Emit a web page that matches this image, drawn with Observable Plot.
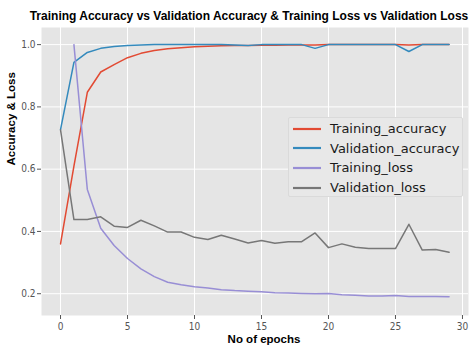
<!DOCTYPE html>
<html>
<head>
<meta charset="utf-8">
<script src="https://cdn.jsdelivr.net/npm/d3@7"></script>
<script src="https://cdn.jsdelivr.net/npm/@observablehq/plot@0.6"></script>
<style>
  html, body { margin: 0; padding: 0; background: #fff; }
  #wrap { position: relative; width: 474px; height: 362px; }
  #legend {
    position: absolute; left: 288px; top: 117px; width: 175px; height: 80px;
    background: #e8e8e8; border: 1px solid #dadada; border-radius: 2px; box-sizing: border-box;
    font-family: "DejaVu Sans", sans-serif; font-size: 13px; color: #1a1a1a;
    padding-top: 1px;
  }
  #legend .row { display: flex; align-items: center; height: 19.6px; }
  #legend svg { margin-left: 4px; margin-right: 9px; }
</style>
</head>
<body>
<div id="wrap"></div>
<script>
const epochs = d3.range(0, 30);
const trainingAccuracy = [0.36, 0.61, 0.847, 0.912, 0.936, 0.958, 0.972, 0.981, 0.987, 0.99,
  0.993, 0.995, 0.996, 0.997, 0.997, 0.998, 0.998, 0.999, 0.999, 0.999,
  1.0, 1.0, 1.0, 1.0, 1.0, 1.0, 0.999, 1.0, 1.0, 1.0];
const validationAccuracy = [0.727, 0.943, 0.975, 0.988, 0.994, 0.997, 0.999, 1.0, 1.0, 1.0,
  1.0, 1.0, 1.0, 0.999, 0.997, 1.0, 1.0, 1.0, 1.0, 0.988,
  1.0, 1.0, 1.0, 1.0, 1.0, 1.0, 0.978, 1.0, 1.0, 1.0];
const trainingLoss = [null, 1.0, 0.535, 0.41, 0.355, 0.313, 0.28, 0.255, 0.237, 0.229,
  0.222, 0.218, 0.213, 0.21, 0.208, 0.206, 0.203, 0.202, 0.201, 0.2,
  0.201, 0.197, 0.195, 0.193, 0.193, 0.194, 0.191, 0.191, 0.191, 0.19];
const validationLoss = [0.726, 0.438, 0.438, 0.447, 0.417, 0.413, 0.436, 0.418, 0.398, 0.398,
  0.381, 0.374, 0.388, 0.376, 0.363, 0.371, 0.362, 0.367, 0.367, 0.395,
  0.348, 0.36, 0.349, 0.345, 0.345, 0.345, 0.423, 0.34, 0.342, 0.333];
const seriesNames = ["Training_accuracy", "Validation_accuracy", "Training_loss", "Validation_loss"];
const seriesColors = ["#E24A33", "#348ABD", "#988ED5", "#777777"];
const xTicks = [0, 5, 10, 15, 20, 25, 30];
const yTicks = [0.2, 0.4, 0.6, 0.8, 1.0];
const title = "Training Accuracy vs Validation Accuracy & Training Loss vs Validation Loss";

const seriesValues = [trainingAccuracy, validationAccuracy, trainingLoss, validationLoss];
const rows = [];
seriesNames.forEach((name, i) => {
  epochs.forEach((e, j) => rows.push({series: name, epoch: e, value: seriesValues[i][j]}));
});

const tickStyle = {fontFamily: "'DejaVu Sans Condensed', 'DejaVu Sans', sans-serif", fontSize: 10, fill: "#555", color: "#555"};

const chart = Plot.plot({
  width: 474, height: 362,
  marginLeft: 41, marginRight: 6, marginTop: 27, marginBottom: 47,
  style: {background: "#fff", overflow: "visible"},
  x: {domain: [-1.42, 30.45]},
  y: {domain: [0.13, 1.055]},
  color: {domain: seriesNames, range: seriesColors},
  marks: [
    Plot.frame({fill: "#E5E5E5", stroke: null}),
    Plot.gridX(xTicks, {stroke: "#fff", strokeOpacity: 1, strokeWidth: 1}),
    Plot.gridY(yTicks, {stroke: "#fff", strokeOpacity: 1, strokeWidth: 1}),
    Plot.axisX(xTicks, {...tickStyle, tickSize: 4, tickPadding: 3, stroke: "#555", label: null}),
    Plot.axisY(yTicks, {...tickStyle, tickSize: 4, tickPadding: 2, stroke: "#555", label: null, tickFormat: d3.format(".1f")}),
    Plot.line(rows.filter(d => d.value != null), {x: "epoch", y: "value", z: "series", stroke: "series", strokeWidth: 1.5}),
    Plot.text([title], {frameAnchor: "top", dy: -16, dx: -6, text: d => d, fontFamily: "'Liberation Sans', Arial, sans-serif", fontWeight: "bold", fontSize: 12, fill: "#000"}),
    Plot.text(["No of epochs"], {frameAnchor: "bottom", dy: 27, dx: 9, text: d => d, fontFamily: "'Liberation Sans', Arial, sans-serif", fontWeight: "bold", fontSize: 11.5, fill: "#000"}),
    Plot.text(["Accuracy & Loss"], {frameAnchor: "left", dx: -30, dy: -6, rotate: -90, text: d => d, fontFamily: "'Liberation Sans', Arial, sans-serif", fontWeight: "bold", fontSize: 11.5, fill: "#000"})
  ]
});

const wrap = document.getElementById("wrap");
wrap.appendChild(chart);

const legend = document.createElement("div");
legend.id = "legend";
seriesNames.forEach((name, i) => {
  const row = document.createElement("div");
  row.className = "row";
  row.innerHTML = `<svg width="28" height="6"><line x1="0" x2="28" y1="3" y2="3" stroke="${seriesColors[i]}" stroke-width="2.2"/></svg><span>${name}</span>`;
  legend.appendChild(row);
});
wrap.appendChild(legend);
</script>
</body>
</html>
